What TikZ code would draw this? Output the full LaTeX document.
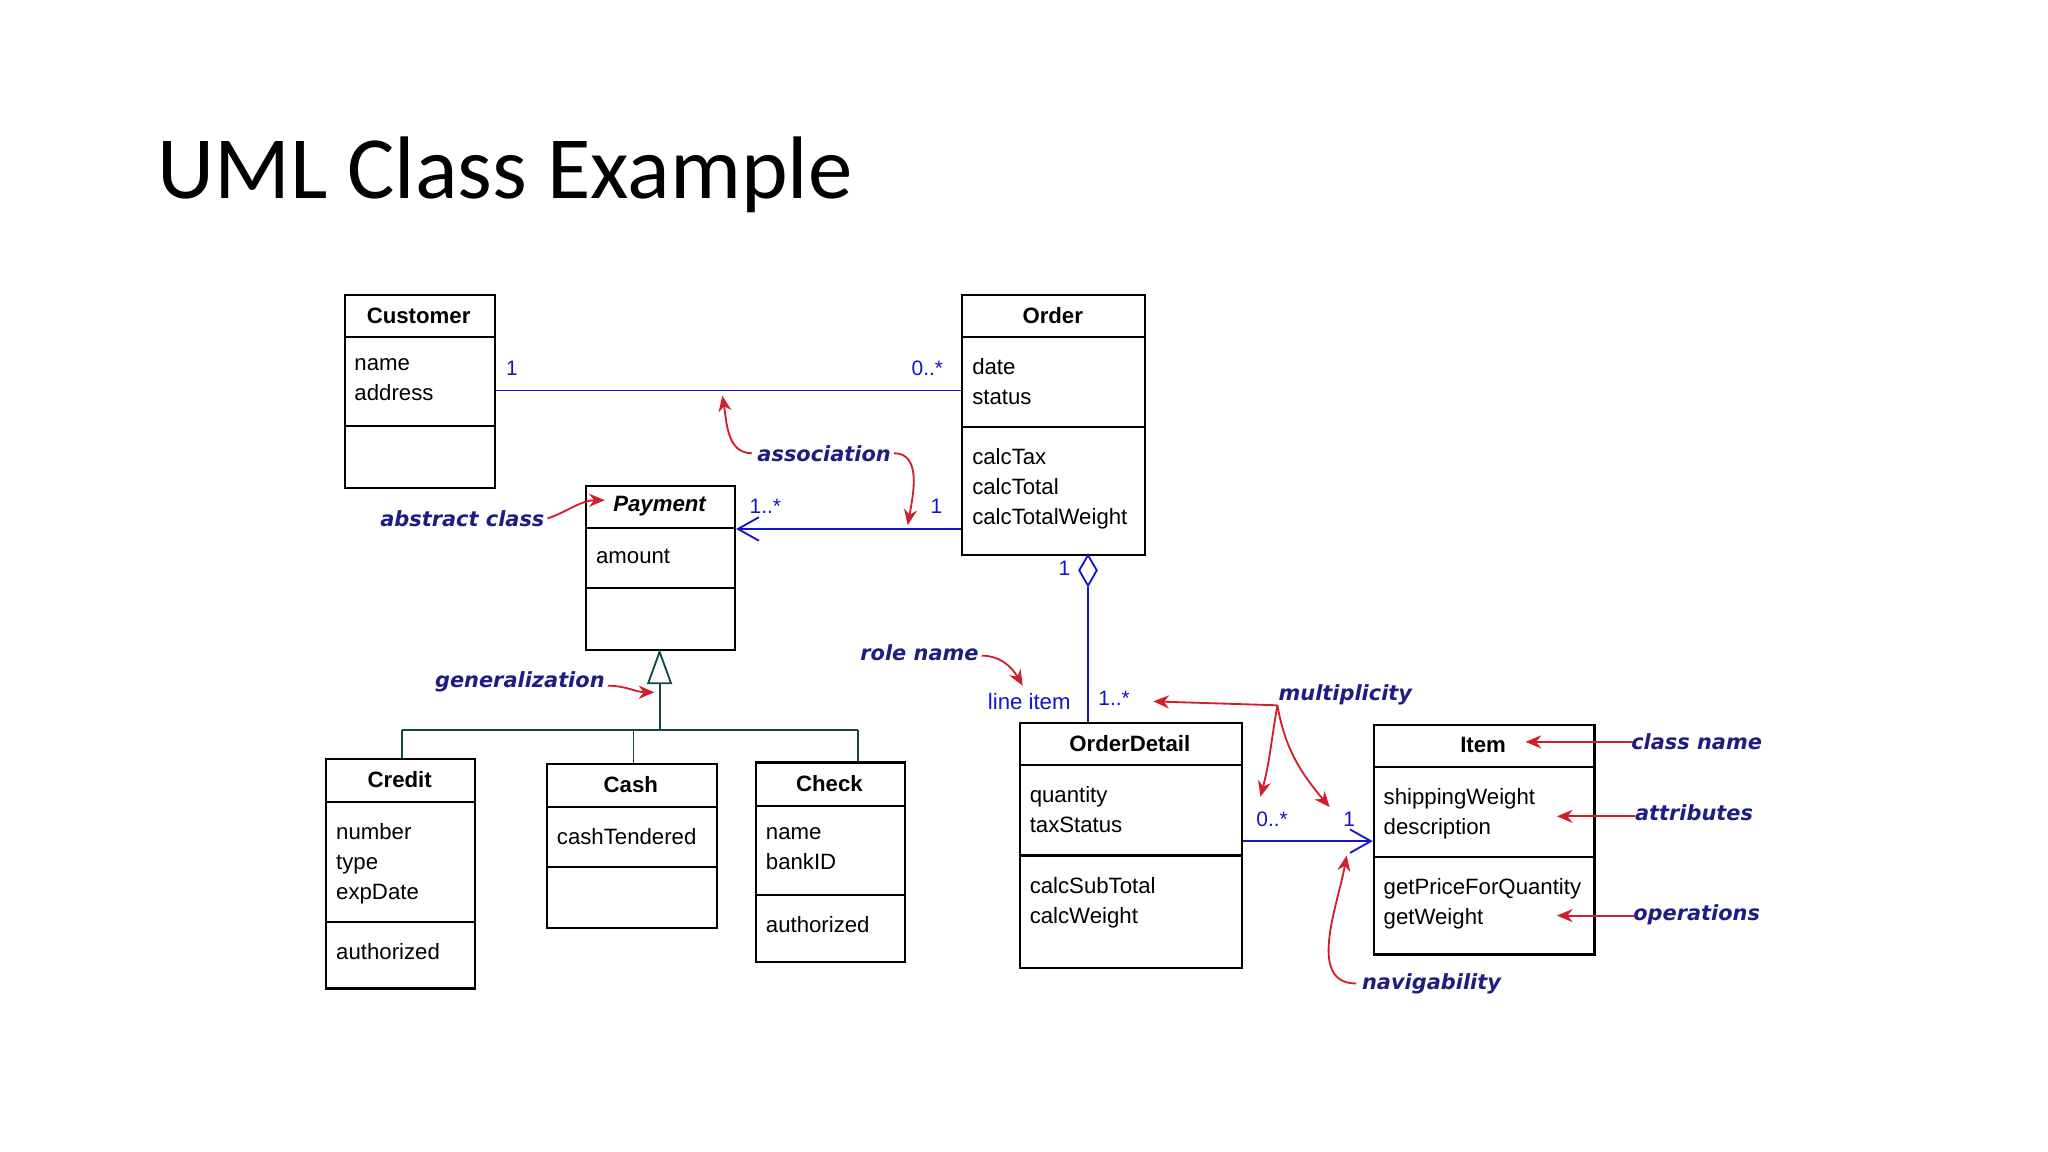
\documentclass[tikz,border=0pt]{standalone}
\usepackage{fontspec}
\setmainfont{Liberation Sans}
\newfontfamily\titlefont{Carlito}
\newfontfamily\notefont{DejaVu Sans}
\usetikzlibrary{arrows.meta,shapes.geometric}
\definecolor{navy}{RGB}{30,30,130}
\definecolor{assoc}{RGB}{20,20,200}
\definecolor{teal2}{RGB}{20,70,70}
\definecolor{redarr}{RGB}{210,30,40}
\tikzset{
  box/.style={draw,line width=0.8pt,anchor=north west,inner sep=0},
  ttl/.style={font=\fontsize{8.5}{10}\selectfont\bfseries,anchor=center},
  txt/.style={font=\fontsize{8.5}{11.5}\selectfont,anchor=north west,align=left,inner sep=0},
  lbl/.style={font=\fontsize{8}{9}\selectfont,text=assoc,inner sep=0},
  note/.style={font=\fontsize{8}{9}\selectfont\notefont\bfseries\itshape,text=navy,inner sep=0},
  ann/.style={draw=redarr,line width=0.7pt,-{Stealth[length=6pt,width=5pt]}},
  asc/.style={draw=assoc,line width=0.7pt},
}
% \umlc{name}{x1}{y1}{x2}{y2}{d1}{d2}{title}{attrs}
\newcommand{\umlc}[9]{%
  \node[box,minimum width={(#4-#2)*0.5pt},minimum height={(#5-#3)*0.5pt}] (#1) at (#2,#3) {};
  \draw[line width=0.8pt] (#2,#6) -- (#4,#6) (#2,#7) -- (#4,#7);
  \node[ttl] (#1-t) at ({(#2+#4)/2},{(#3+#6)/2}) {#8};
  \node[txt] (#1-a) at ({#2+8},{#6+16}) {#9};
}
\begin{document}
\begin{tikzpicture}[x=0.5pt,y=-0.5pt]
\useasboundingbox[fill=white] (0,0) rectangle (1568,882);
\node[font=\fontsize{34}{40}\selectfont\titlefont,anchor=base west,inner sep=0] (title) at (120,152) {UML Class Example};

\umlc{cust}{263}{225}{378}{373}{258}{326}{Customer}{name\\address}
\umlc{order}{736}{225}{876}{424}{258}{327}{Order}{date\\status}
\node[txt] (order-o) at (744,343) {calcTax\\calcTotal\\calcTotalWeight};
\umlc{pay}{448}{371}{562}{497}{404}{450}{\itshape Payment}{amount}
\umlc{credit}{249}{580}{363}{756}{614}{706}{Credit}{number\\type\\expDate}
\node[txt] (credit-o) at (257,722) {authorized};
\umlc{cash}{418}{584}{548}{710}{618}{664}{Cash}{cashTendered}
\umlc{check}{578}{583}{692}{736}{617}{685}{Check}{name\\bankID}
\node[txt] (check-o) at (586,701) {authorized};
\umlc{od}{780}{553}{950}{740}{586}{655}{OrderDetail}{quantity\\taxStatus}
\node[txt] (od-o) at (788,671) {calcSubTotal\\calcWeight};
\umlc{item}{1051}{554}{1220}{730}{587}{656}{Item}{shippingWeight\\description}
\node[txt] (item-o) at (1059,672) {getPriceForQuantity\\getWeight};

% associations
\draw[asc] (cust.east |- 0,299) -- (order.west |- 0,299);
\node[lbl] at (392,282) {1};
\node[lbl] at (710,282) {0..*};
\draw[asc,-{Straight Barb[length=8pt,width=9pt]}] (order.west |- 0,405) -- (pay.east |- 0,405);
\node[lbl] at (586,388) {1..*};
\node[lbl] at (717,388) {1};
\node[draw=assoc,line width=0.7pt,diamond,fill=white,minimum width=7pt,minimum height=12pt,inner sep=0,anchor=north] (dia) at (833,424) {};
\draw[asc] (dia.south) -- (od.north -| dia.south);
\node[lbl] at (815,435) {1};
\node[lbl,font=\fontsize{8.5}{9}\selectfont] at (788,537) {line item};
\node[lbl] at (853,535) {1..*};
\draw[asc,-{Straight Barb[length=8pt,width=9pt]}] (od.east |- 0,644) -- (item.west |- 0,644);
\node[lbl] at (974,627) {0..*};
\node[lbl] at (1033,627) {1};

% generalization
\node[draw=teal2,line width=0.7pt,isosceles triangle,shape border rotate=90,isosceles triangle apex angle=40,minimum height=12pt,inner sep=0,fill=white,anchor=apex] (tri) at (505,497) {};
\coordinate (gj) at (505,559);
\draw[teal2,line width=0.7pt] (tri.south) -- (gj);
\draw[teal2,line width=0.7pt] (308,559) -- (657,559);
\draw[teal2,line width=0.7pt] (credit.north -| 308,0) -- (308,559);
\draw[teal2,line width=0.7pt] (cash.north -| 485,0) -- (485,559);
\draw[teal2,line width=0.7pt] (check.north -| 657,0) -- (657,559);

% annotations
\node[note] (n1) at (631,347) {association};
\draw[ann] (n1.west) ++(-4,0) to[out=180,in=-80] (553,303);
\draw[ann] (n1.east) ++(2,0) to[out=0,in=80] (695,402);
\node[note] (n2) at (354,397) {abstract class};
\draw[ann] (n2.east) ++(2,0) to[out=20,in=180] (463,383);
\node[note] (n3) at (398,522) {generalization};
\draw[ann] (n3.east) ++(2,3) to[out=0,in=180] (501,530);
\node[note] (n4) at (704,500) {role name};
\draw[ann] (n4.east) ++(2,2) to[out=0,in=120] (783,525);
\node[note] (n5) at (1030,532) {multiplicity};
\coordinate (m0) at (978,540);
\draw[ann] (m0) -- (883,537);
\draw[ann] (m0) to[out=-100,in=75] (965,610);
\draw[ann] (m0) to[out=-80,in=130] (1018,618);
\node[note] (n6) at (1299,568) {class name};
\draw[ann] (1250,568) -- (1168,568);
\node[note] (n7) at (1297,622) {attributes};
\draw[ann] (1252,625) -- (1192,625);
\node[note] (n8) at (1299,700) {operations};
\draw[ann] (1252,701) -- (1192,701);
\node[note] (n9) at (1096,753) {navigability};
\draw[ann] (n9.west) ++(-4,0) to[out=180,in=-100] (1031,655);
\end{tikzpicture}
\end{document}
